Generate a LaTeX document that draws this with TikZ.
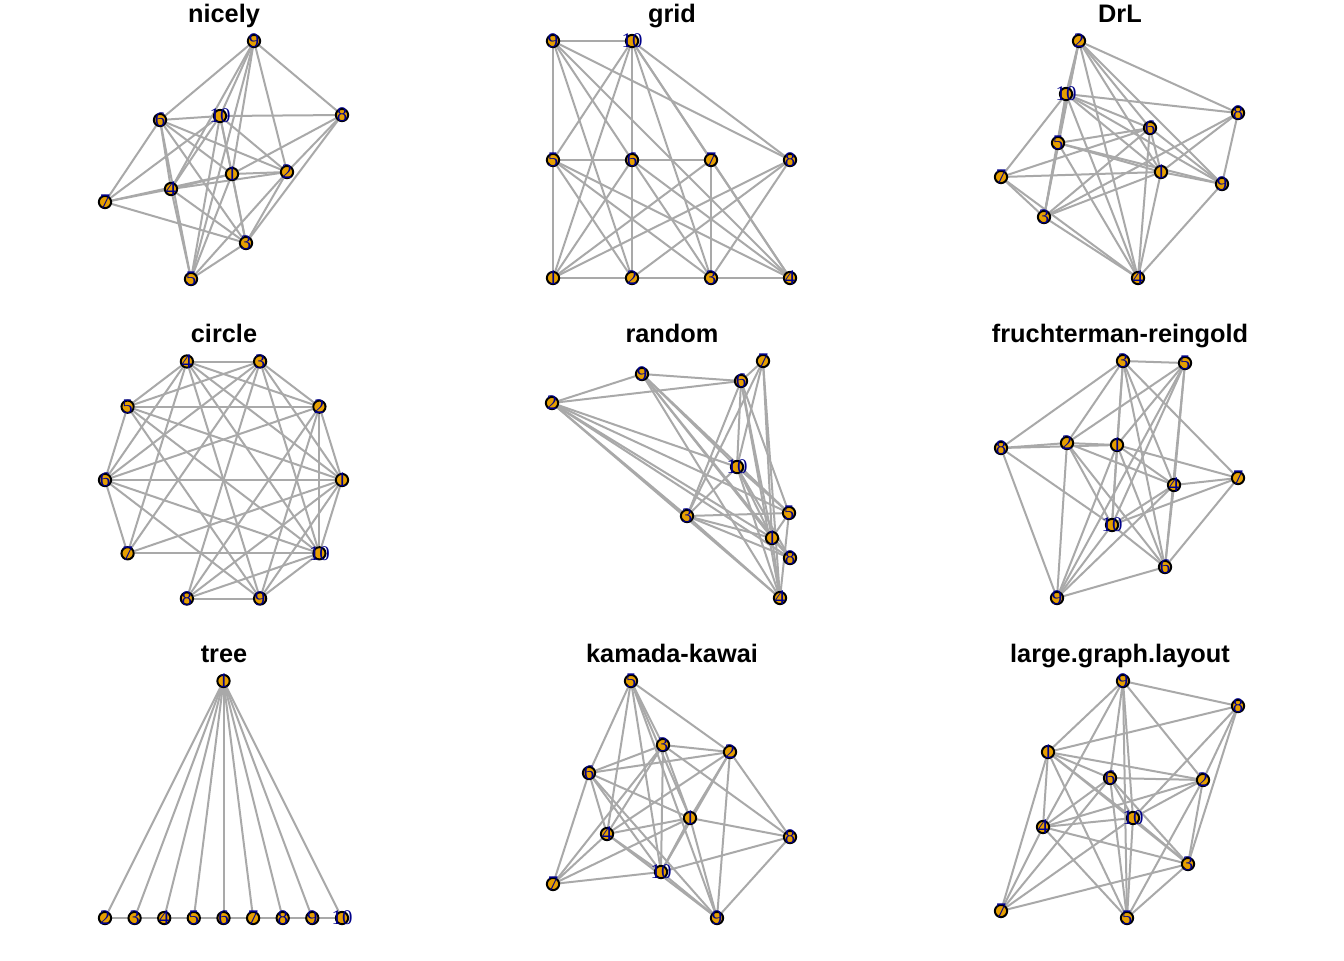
\documentclass[tikz,border=0pt]{standalone}
\usepackage{fontspec}
\setmainfont{Liberation Serif}
\newfontfamily\titlefont{Liberation Sans}
\definecolor{vfill}{HTML}{E69F00}
\definecolor{egray}{HTML}{A9A9A9}
\definecolor{lblue}{HTML}{00008B}
\pgfdeclarelayer{bg}
\pgfsetlayers{bg,main}
\tikzset{
  vtx/.style={circle,draw=black,fill=vfill,line width=0.75pt,minimum size=4.6pt,inner sep=0pt},
  vlbl/.style={text=lblue,font=\fontsize{7.8}{7.8}\selectfont,inner sep=0pt},
  edge/.style={draw=egray,line width=0.75pt},
  ttl/.style={anchor=base,font=\titlefont\bfseries\fontsize{9.5}{10}\selectfont}
}
\newcommand\graphedges[1]{%
  \begin{pgfonlayer}{bg}
  \foreach \u/\v in {1/2,1/3,1/4,1/5,1/6,1/7,1/8,1/9,1/10,
                     2/3,2/4,2/5,2/6,2/8,2/9,2/10,
                     3/4,3/5,3/6,3/7,3/8,3/10,
                     4/5,4/6,4/7,4/9,4/10,
                     5/6,5/9,5/10,
                     6/7,6/9,6/10,
                     7/10,
                     8/9,8/10,
                     9/10}
    {\draw[edge] (#1\u) -- (#1\v);}
  \end{pgfonlayer}}
\newcommand\vtxat[3]{\node[vtx,label={[vlbl]center:#2}] (#1#2) at (#3) {};}
\newcommand\placeall[2]{%
  \foreach \k/\p in {#2} {\vtxat{#1}{\k}{\p}}}
\begin{document}
\begin{tikzpicture}[x=0.375pt,y=-0.375pt]
\useasboundingbox (0,0) rectangle (1344,960);
\begin{pgfonlayer}{bg}
\fill[white] (0,0) rectangle (1344,960);
\end{pgfonlayer}
% titles
\node[ttl] (t1) at (224,22) {nicely};
\node[ttl] (t2) at (672,22) {grid};
\node[ttl] (t3) at (1120,22) {DrL};
\node[ttl] (t4) at (224,342) {circle};
\node[ttl] (t5) at (672,342) {random};
\node[ttl] (t6) at (1120,342) {fruchterman-reingold};
\node[ttl] (t7) at (224,662) {tree};
\node[ttl] (t8) at (672,662) {kamada-kawai};
\node[ttl] (t9) at (1120,662) {large.graph.layout};
% nicely
\placeall{a}{1/{232,174},2/{287,172},3/{246,243},4/{171,189},5/{191,279},6/{160,120},7/{105,202},8/{342,115},9/{254,41},10/{220,116}}
\graphedges{a}
% grid
\placeall{b}{1/{553,278},2/{632,278},3/{711,278},4/{790,278},5/{553,160},6/{632,160},7/{711,160},8/{790,160},9/{553,41},10/{632,41}}
\graphedges{b}
% DrL
\placeall{c}{1/{1161,172},2/{1079,41},3/{1044,217},4/{1138,278},5/{1058,143},6/{1150,128},7/{1001,177},8/{1238,113},9/{1222,184},10/{1066,94}}
\graphedges{c}
% circle
\placeall{d}{1/{342,480},2/{319.4,406.7},3/{260.1,361.5},4/{186.9,361.5},5/{127.6,406.7},6/{105,480},7/{127.6,553.3},8/{186.9,598.5},9/{260.1,598.5},10/{319.4,553.3}}
\graphedges{d}
% random
\placeall{e}{1/{772,538},2/{552,403},3/{687,516},4/{780,598},5/{789,513},6/{741,381},7/{763,361},8/{790,558},9/{642,374},10/{737,467}}
\graphedges{e}
% fruchterman-reingold
\placeall{f}{1/{1117,445},2/{1067,443},3/{1123,361},4/{1174,485},5/{1185,363},6/{1165,567},7/{1238,478},8/{1001,448},9/{1057,598},10/{1112,525}}
\graphedges{f}
% tree
\placeall{g}{1/{223.5,681},2/{105,918},3/{134.6,918},4/{164.2,918},5/{193.8,918},6/{223.5,918},7/{253.1,918},8/{282.7,918},9/{312.3,918},10/{342,918}}
\graphedges{g}
% kamada-kawai
\placeall{h}{1/{690,818},2/{730,752},3/{663,745},4/{607,834},5/{631,681},6/{589,773},7/{553,884},8/{790,837},9/{717,918},10/{661,872}}
\graphedges{h}
% large.graph.layout
\placeall{i}{1/{1048,752},2/{1203,780},3/{1188,864},4/{1043,827},5/{1127,918},6/{1110,778},7/{1001,911},8/{1238,706},9/{1123,681},10/{1133,818}}
\graphedges{i}
\end{tikzpicture}
\end{document}
